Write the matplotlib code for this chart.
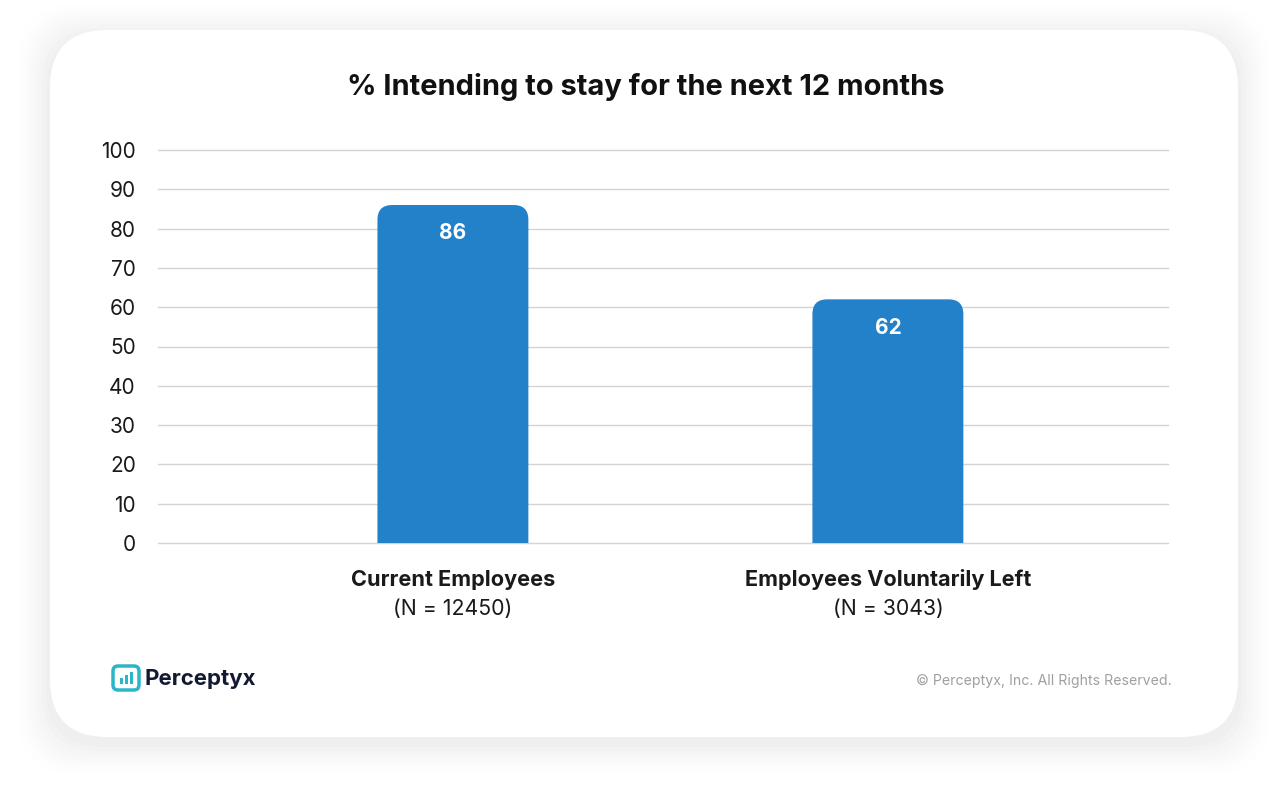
import matplotlib.pyplot as plt
import matplotlib.transforms as mtransforms
from matplotlib.patches import FancyBboxPatch
import numpy as np

plt.rcParams['font.family'] = ['Inter', 'DejaVu Sans']

categories = ['Current Employees', 'Employees Voluntarily Left']
counts = ['(N = 12450)', '(N = 3043)']
values = [86, 62]
yticks = [0, 10, 20, 30, 40, 50, 60, 70, 80, 90, 100]

W, H = 1280, 798
fig = plt.figure(figsize=(W / 100, H / 100), dpi=100)
fig.patch.set_facecolor('white')

# card with soft shadow
def px(x, y):
    return x / W, 1 - y / H

for i, a in enumerate(np.linspace(0.012, 0.004, 8)):
    g = 4 + i * 4
    s = FancyBboxPatch(px(50 - g + 0, 737 + g + 6), (1188 + 2 * g) / W, (707 + 2 * g) / H,
                       boxstyle='round,pad=0,rounding_size=0.045',
                       mutation_aspect=W / H, transform=fig.transFigure,
                       facecolor='black', edgecolor='none', alpha=a, zorder=0)
    fig.patches.append(s)
card = FancyBboxPatch(px(50, 737), 1188 / W, 707 / H,
                      boxstyle='round,pad=0,rounding_size=0.045',
                      mutation_aspect=W / H, transform=fig.transFigure,
                      facecolor='white', edgecolor='none', zorder=1)
fig.patches.append(card)

ax = fig.add_axes([158 / W, 1 - 543 / H, 1010 / W, 393 / H])
ax.set_facecolor('none')
ax.set_zorder(2)

x = np.arange(len(categories))
bars = ax.bar(x, values, width=0.347, color='none')
ax.set_xlim(-0.678, 1.644)
ax.set_ylim(0, 100)

aspect = (100 / 393) / (2.322 / 1010)
for b, v in zip(bars, values):
    p = FancyBboxPatch((b.get_x(), -10), b.get_width(), b.get_height() + 10,
                       boxstyle='round,pad=0,rounding_size=0.034',
                       mutation_aspect=aspect, facecolor='#2381C9',
                       edgecolor='none', zorder=3)
    ax.add_patch(p)
    ax.text(b.get_x() + b.get_width() / 2, v - 7.2, str(v), ha='center', va='center',
            color='white', fontsize=15, fontweight='bold', zorder=4)

ax.set_yticks(yticks)
ax.yaxis.grid(True, color='#d4d4d4', linewidth=1)
for gl in ax.get_ygridlines():
    gl.set_clip_on(False)
ax.set_axisbelow(True)
for sp in ax.spines.values():
    sp.set_visible(False)
ax.tick_params(axis='y', length=0, pad=16, labelsize=15, labelcolor='#1a1a1a')
ax.set_xticks([])

trans = mtransforms.blended_transform_factory(ax.transData, fig.transFigure)
for xi, c, n in zip(x, categories, counts):
    ax.text(xi, 1 - 580 / H, c, transform=trans, ha='center', va='center',
            fontsize=15.6, fontweight='bold', color='#1a1a1a')
    ax.text(xi, 1 - 609 / H, n, transform=trans, ha='center', va='center',
            fontsize=15.3, color='#1a1a1a')

fig.text(646 / W, 1 - 87 / H, '% Intending to stay for the next 12 months',
         ha='center', va='center', fontsize=20.9, fontweight='bold', color='#111111', zorder=5)

# logo
logo = FancyBboxPatch(px(113, 690), 26 / W, 24 / H,
                      boxstyle='round,pad=0,rounding_size=0.004',
                      mutation_aspect=W / H, transform=fig.transFigure,
                      facecolor='none', edgecolor='#2ab5c8', linewidth=2.5, zorder=5)
fig.patches.append(logo)
for bx, bh in zip([120, 125, 130], [6, 9, 12]):
    fig.patches.append(plt.Rectangle(px(bx, 684), 3 / W, bh / H, transform=fig.transFigure,
                                     facecolor='#2ab5c8', edgecolor='none', zorder=5))
fig.text(145 / W, 1 - 679 / H, 'Perceptyx', ha='left', va='center', fontsize=16,
         fontweight='bold', color='#121a33', zorder=5)

fig.text(1172 / W, 1 - 681 / H, '© Perceptyx, Inc. All Rights Reserved.', ha='right',
         va='center', fontsize=10.2, color='#a0a0a0', zorder=5)

fig.savefig('out.png', dpi=100)
